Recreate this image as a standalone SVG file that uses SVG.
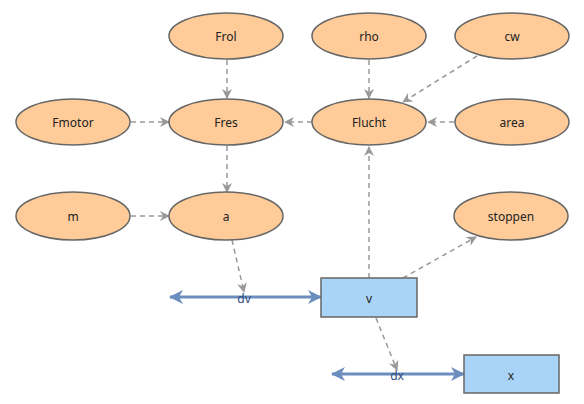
<svg xmlns="http://www.w3.org/2000/svg" width="584" height="404" viewBox="0 0 584 404">
<defs>
<marker id="ah" markerWidth="10" markerHeight="10" refX="9" refY="5" orient="auto" markerUnits="userSpaceOnUse">
<path d="M0,0 L10,5 L0,10 L3,5 z" fill="#999999"/>
</marker>
<marker id="fa" markerWidth="14" markerHeight="14" refX="13" refY="7" orient="auto-start-reverse" markerUnits="userSpaceOnUse">
<path d="M0,0 L14,7 L0,14 L4,7 z" fill="#6c8ebf"/>
</marker>
<style>
.n ellipse{fill:#ffcc99;stroke:#666666;stroke-width:1.5}
.n rect{fill:#a9d4f7;stroke:#666666;stroke-width:1.5}
text{font-family:"Comic Sans MS","Noto Sans","DejaVu Sans",sans-serif;font-size:12px;fill:#222222;text-anchor:middle;dominant-baseline:central}
.c line{stroke:#999999;stroke-width:1.5;stroke-dasharray:5,4;fill:none;marker-end:url(#ah)}
.f line{stroke:#6c8ebf;stroke-width:3;marker-start:url(#fa);marker-end:url(#fa)}
.fl{fill:#2f4a80}
</style>
</defs>
<g class="c">
<line x1="227" y1="60" x2="227" y2="98"/>
<line x1="131" y1="122" x2="169" y2="122"/>
<line x1="312" y1="122" x2="285" y2="122"/>
<line x1="369" y1="60" x2="369" y2="98"/>
<line x1="477" y1="56" x2="403" y2="102"/>
<line x1="454" y1="122" x2="428" y2="122"/>
<line x1="227" y1="146" x2="227" y2="192"/>
<line x1="131" y1="216" x2="169" y2="216"/>
<line x1="232" y1="240" x2="244" y2="292"/>
<line x1="369" y1="278" x2="369" y2="147"/>
<line x1="403" y1="278" x2="476" y2="237"/>
<line x1="376" y1="318" x2="397" y2="370"/>
</g>
<g class="f">
<line x1="170" y1="297" x2="321" y2="297"/>
<line x1="332" y1="374" x2="464" y2="374"/>
</g>
<g id="Frol" class="n"><ellipse cx="226" cy="36" rx="57" ry="23"/><text x="226" y="36">Frol</text></g>
<g id="rho" class="n"><ellipse cx="369" cy="36" rx="57" ry="23"/><text x="369" y="36">rho</text></g>
<g id="cw" class="n"><ellipse cx="512" cy="36" rx="57" ry="23"/><text x="512" y="36">cw</text></g>
<g id="Fmotor" class="n"><ellipse cx="73" cy="122" rx="57" ry="23"/><text x="73" y="122">Fmotor</text></g>
<g id="Fres" class="n"><ellipse cx="226" cy="122" rx="57" ry="23"/><text x="226" y="122">Fres</text></g>
<g id="Flucht" class="n"><ellipse cx="369" cy="122" rx="57" ry="23"/><text x="369" y="122">Flucht</text></g>
<g id="area" class="n"><ellipse cx="512" cy="122" rx="57" ry="23"/><text x="512" y="122">area</text></g>
<g id="m" class="n"><ellipse cx="73" cy="216" rx="57" ry="24"/><text x="73" y="216">m</text></g>
<g id="a" class="n"><ellipse cx="226" cy="216" rx="57" ry="24"/><text x="226" y="216">a</text></g>
<g id="stoppen" class="n"><ellipse cx="511" cy="216" rx="57" ry="24"/><text x="511" y="216">stoppen</text></g>
<g id="v" class="n"><rect x="321" y="278" width="96" height="39"/><text x="369" y="298">v</text></g>
<g id="x" class="n"><rect x="464" y="355" width="95" height="38"/><text x="511" y="375">x</text></g>
<g id="dv"><text class="fl" x="244" y="298">dv</text></g>
<g id="dx"><text class="fl" x="397" y="375">dx</text></g>
</svg>
